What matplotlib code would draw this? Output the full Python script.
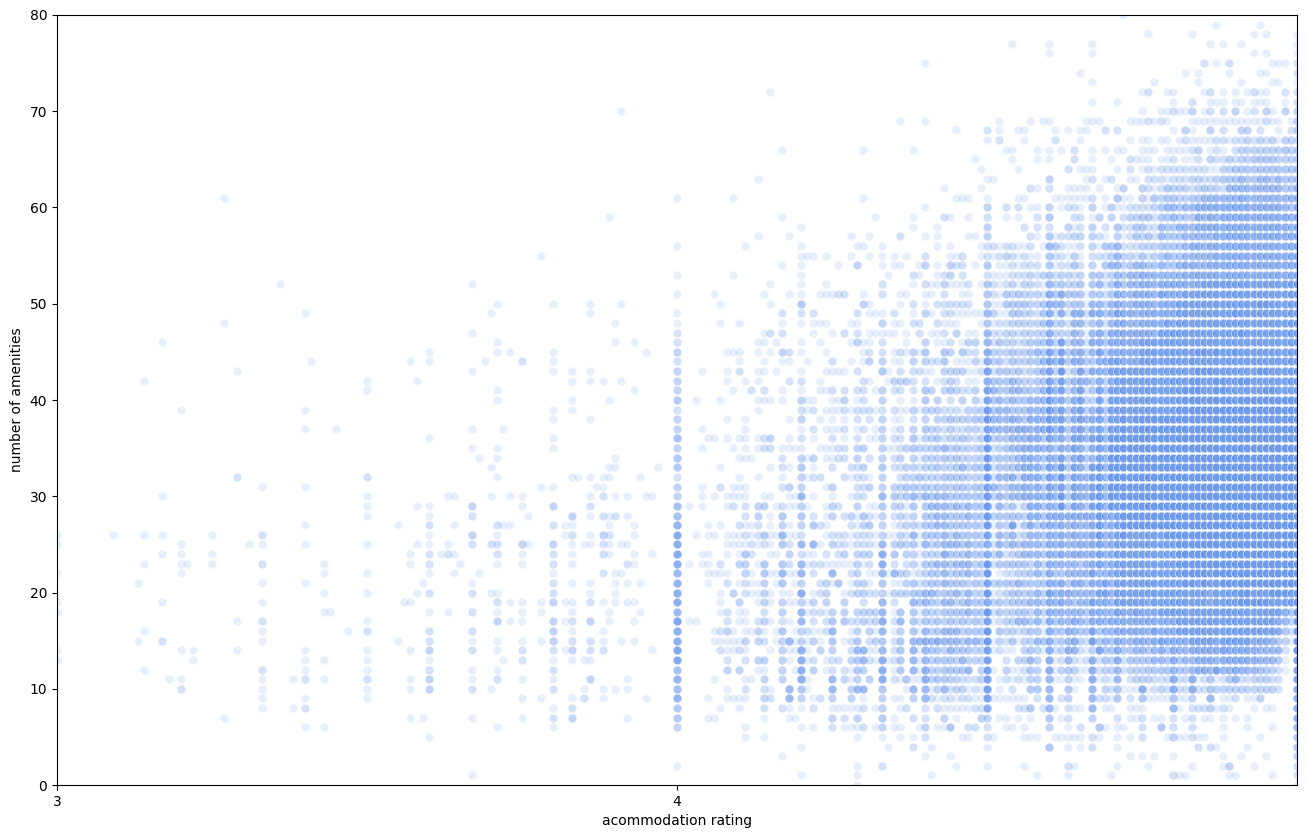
# using: utf-8
import matplotlib
matplotlib.use("Agg")
import matplotlib.pyplot as plt

# sparse part, one list of amenities per rating (repeats = overlapping listings)
low_ratings = [3.00, 3.09, 3.13, 3.14, 3.17, 3.18, 3.20, 3.21, 3.22, 3.25, 3.27, 3.29, 3.31, 3.33, 3.36,
               3.38, 3.40, 3.41, 3.43, 3.44, 3.45, 3.47, 3.50, 3.55, 3.56, 3.57, 3.58, 3.59, 3.60, 3.62,
               3.63, 3.64, 3.65, 3.67, 3.68, 3.69, 3.70, 3.71, 3.72, 3.73, 3.75, 3.76, 3.78, 3.80, 3.82,
               3.83, 3.84, 3.85, 3.86, 3.87, 3.88, 3.89, 3.90, 3.91, 3.92, 3.93, 3.94, 3.95, 3.96, 3.97]
low_amenities = [
    [13, 14, 18, 19, 22, 25, 26], [26], [15, 21], [12, 16, 23, 26, 42], [15, 15, 19, 24, 26, 30, 46], [11],
    [10, 10, 11, 14, 22, 23, 24, 25, 39], [23], [13, 14], [23, 24, 26], [7, 48, 61], [14, 17, 32, 32, 43], [25],
    [8, 9, 10, 11, 12, 12, 15, 16, 17, 17, 19, 21, 23, 23, 25, 26, 26, 31], [52], [8, 11],
    [6, 8, 8, 9, 11, 11, 12, 13, 14, 21, 25, 27, 31, 37, 39, 49], [44], [6, 11, 13, 18, 20, 22, 23], [18], [37], [16],
    [9, 10, 11, 11, 12, 13, 14, 16, 16, 17, 20, 22, 25, 28, 29, 30, 32, 32, 41, 42], [15, 27], [19],
    [7, 10, 11, 14, 19, 23, 24, 44], [20, 25, 29, 42], [7, 21],
    [5, 10, 10, 10, 11, 11, 11, 12, 12, 13, 14, 14, 14, 15, 15, 16, 16, 18, 20, 20, 22, 23, 23, 24, 24, 25, 26, 27, 27,
     28, 29, 36, 44, 45],
    [24], [18, 24, 24, 25, 30], [22, 24, 27, 30], [23],
    [1, 7, 10, 10, 11, 12, 14, 14, 15, 16, 16, 18, 18, 20, 20, 21, 25, 25, 26, 26, 26, 28, 28, 29, 29, 29, 35, 37, 43,
     47, 52],
    [22, 34], [44], [10, 20, 25, 25, 30, 33, 49],
    [6, 11, 11, 12, 14, 15, 17, 17, 17, 18, 19, 19, 20, 23, 24, 24, 25, 25, 26, 27, 27, 32, 34, 35, 40, 41, 45, 46, 50],
    [13, 27, 37], [17, 19, 27, 30, 45],
    [7, 9, 11, 13, 13, 14, 14, 15, 17, 18, 19, 23, 24, 25, 25, 25, 29, 30, 44, 44], [25, 28], [9, 15, 18, 19, 31, 55],
    [6, 7, 7, 8, 10, 10, 11, 12, 12, 13, 14, 14, 15, 15, 15, 16, 16, 16, 17, 17, 17, 19, 19, 19, 20, 20, 21, 21, 22, 23,
     23, 24, 24, 25, 25, 25, 27, 27, 29, 29, 29, 31, 35, 36, 38, 39, 43, 44, 45, 50],
    [14, 17, 19, 26, 27],
    [7, 7, 7, 8, 8, 9, 13, 14, 14, 14, 15, 15, 16, 17, 17, 18, 19, 21, 23, 24, 25, 26, 26, 27, 28, 28, 28, 32, 39, 40,
     42, 43],
    [32], [9, 9, 10, 13, 25],
    [11, 11, 11, 13, 14, 14, 15, 15, 17, 17, 17, 19, 19, 20, 21, 25, 26, 28, 29, 29, 30, 32, 38, 42, 43, 49, 50], [31],
    [9, 10, 14, 14, 15, 16, 19, 22, 22, 24, 24, 25, 25, 26, 26, 26, 28, 28, 30, 30, 31, 32, 42],
    [17, 18, 24, 25, 26, 26, 27, 28, 32, 33, 40, 59], [10, 19, 20, 21, 22, 28, 28, 30, 33, 34, 46, 48],
    [15, 22, 25, 42, 50, 70], [7, 10, 11, 19, 21, 23, 23, 25, 28, 30], [15, 17, 19, 23, 24, 26, 27, 41, 46],
    [18, 21, 32], [9, 30, 45], [14, 24, 30], [33],
]

# the rating 4.00 column
four_amenities = [2, 6, 7, 8, 9, 10, 11, 12, 13, 14, 15, 16, 17, 18, 19, 20, 21, 22, 23, 24, 25, 26, 27, 28, 29, 30,
                  31, 32, 33, 34, 35, 36, 37, 38, 39, 40, 41, 42, 43, 44, 45, 46, 47, 48, 49, 51, 53, 56, 61]
four_counts = [1, 3, 4, 4, 7, 5, 7, 5, 9, 10, 8, 8, 10, 6, 8, 8, 7, 6, 8, 9, 8, 9, 7, 5, 5, 3,
               3, 2, 4, 4, 3, 5, 3, 3, 2, 4, 3, 3, 3, 2, 3, 2, 2, 1, 1, 1, 1, 1, 1]

# dense part: ratings 4.01 .. 5.00, one row per amenity count from 80 down to 0,
# each block is ten ratings, digit = overlap level, "-" = empty block
overlap_levels = [0, 1, 2, 3, 4, 6, 8, 11, 15, 25]
grid_ratings = [4.01, 4.02, 4.03, 4.04, 4.05, 4.06, 4.07, 4.08, 4.09, 4.10,
                4.11, 4.12, 4.13, 4.14, 4.15, 4.16, 4.17, 4.18, 4.19, 4.20,
                4.21, 4.22, 4.23, 4.24, 4.25, 4.26, 4.27, 4.28, 4.29, 4.30,
                4.31, 4.32, 4.33, 4.34, 4.35, 4.36, 4.37, 4.38, 4.39, 4.40,
                4.41, 4.42, 4.43, 4.44, 4.45, 4.46, 4.47, 4.48, 4.49, 4.50,
                4.51, 4.52, 4.53, 4.54, 4.55, 4.56, 4.57, 4.58, 4.59, 4.60,
                4.61, 4.62, 4.63, 4.64, 4.65, 4.66, 4.67, 4.68, 4.69, 4.70,
                4.71, 4.72, 4.73, 4.74, 4.75, 4.76, 4.77, 4.78, 4.79, 4.80,
                4.81, 4.82, 4.83, 4.84, 4.85, 4.86, 4.87, 4.88, 4.89, 4.90,
                4.91, 4.92, 4.93, 4.94, 4.95, 4.96, 4.97, 4.98, 4.99, 5.00]
grid_amenities = list(range(80, -1, -1))
grid_rows = [
    "- - - - - - - 0100000000 - -",
    "- - - - - - - - 0000001000 0001000000",
    "- - - - - - - 0000010000 0010000000 0010100001",
    "- - - - - 0001000001 0000001000 - 0000010100 1000000001",
    "- - - - - 0000000001 0000001000 - - 0010100001",
    "- - - 0000000001 - - - - 0000201020 0000011102",
    "- - - - - - 0000100000 - 0101000010 0001100002",
    "- - - - - - 0000001000 0000001000 0001000000 1000011001",
    "- 0000100000 - - - - - 0000120011 0000120101 0121100202",
    "- - - - - - 0000001000 1000000001 0020011101 1011100102",
    "- - - - - - - 0000100112 1130120203 0120310303",
    "- - - 0000010001 - 0100001011 0000011100 0011121210 0011111111 1111211013",
    "- - - - 0000100002 0100110000 1010110020 2000000001 0310030200 3302001023",
    "- - - - 0000000001 0200010000 2000100000 0010110110 1211112212 2323231332",
    "- 0000001000 0000000001 0000000100 - 0011000101 0102001010 1100111011 1123012102 3333333433",
    "- - - - 0000000100 0001000101 0002001001 0021110112 0112032232 3344443333",
    "- - - - 0000000010 0000100000 0020111000 1020121222 2222211334 4444444444",
    "- 0010000000 - - 0000000001 1000000003 0000012012 0011022212 2233223444 5445545444",
    "- - - - 0010000010 0000002102 0011110100 1300321243 3323433255 5555555445",
    "0000000010 - 0000000001 - 0000111001 0000110000 1111112010 4110314344 3344555555 6555555555",
    "- - - 0000000001 0000000003 0020201103 0122103013 1122223455 4556666666 6666666546",
    "- 0000001000 - 0100000100 0021001002 0010100204 0002201303 0233442445 4446565666 6666666656",
    "- 0000000001 - 0000000100 0100000003 0000020202 0031203020 4224422544 5556666666 6666666656",
    "- 0010000100 0000000100 1000020001 0100001103 0000002104 1223303210 3124342544 4555556666 6666666666",
    "- 1000000001 0000000011 0010000000 0101000012 2122112015 4211203144 5222333444 4566566666 6666666666",
    "- 0000000001 1101000100 1010101002 0001120012 1232121104 2213102223 5332423454 4555556666 6666666666",
    "- 0000001001 0000010030 0010110013 0103220104 0112122204 1224203045 5345544544 5665566666 6666666666",
    "0000000010 0000000001 - 0001000210 0123020002 1112223234 2332304423 5455655555 5666666666 6666666666",
    "- 0000100001 0001000000 0020000102 1131112014 2123133215 3433404524 6455665666 6666777777 7777777777",
    "0000010000 0001000101 0011122001 0020011001 1020011004 2143433326 4644414424 6556665766 6777777777 7777777777",
    "0000001000 0000100004 0000000003 1000010201 0222222004 1144443346 5534415535 6556665666 7777777777 7778877777",
    "- 0000002002 0200000020 1110200103 1022111115 3114433246 2626626645 7665666666 7777777778 7777777777",
    "0000001001 0000001001 0111000110 0030110220 0211100014 1223333346 3425524525 6655666676 7777777777 7777777777",
    "- 0001202000 0100102020 1111101020 1120301105 2233233336 3335415636 6666665777 7777777777 8777777777",
    "- 0011010001 0010000131 1020001003 0112013305 2433234446 3735526646 6666777777 7777777777 7777777777",
    "0000000111 0010103201 0001000001 2020121314 0043042206 3334334547 4745635746 6666777777 7778878778 7777777777",
    "0000000001 0001001100 1000200101 3030110303 2240111316 3424334457 5746644667 7666777777 7787777777 7777777777",
    "0001000102 0011010001 0001111020 0041020221 1033331127 2443423457 3824736657 7777777777 7778887777 7778877777",
    "0000000100 1010000202 0010000002 1001333202 0123201106 4445433447 4745654636 7777777777 7788778877 8877777777",
    "0000000010 0202001001 0011202022 0130220204 3034322307 5445544458 5735724747 7777777777 7888778877 7777887777",
    "0010001000 0011101003 1100113012 0030010104 0302030317 4545445558 5646733727 7777777777 7888788887 8888888888",
    "- 0010000002 1201112122 2120211313 3322213338 4554445558 5746735747 7777777777 8888888888 8888888888",
    "0000000100 1000000103 0010101020 2030110203 0334333448 5556546658 6746756747 7878888888 8888888888 8888888888",
    "0001000000 1000000001 0201112012 0130120304 3323223327 5555665668 5746746747 7878888888 8888888888 8888888888",
    "0000110101 1012300102 0100201020 1130220413 3423343238 3445556647 5647757858 8888888888 8888888888 8888888888",
    "0001000010 1012201111 0011122033 0031123433 3453433348 2345566656 4657636758 8888888888 8888888888 8888888888",
    "0000000001 1100002003 1301122030 2030230313 3343433338 3444566546 5746745758 8888888888 8888888888 8888888888",
    "0000001000 0000102104 0100200223 0040223323 3433453448 2444566647 5847637858 8888888888 8888888888 8888888888",
    "0000000001 0010001003 1220002122 1030023343 3344443338 2556366647 5847657858 8888888888 8888888888 8888888888",
    "0001002011 1000002303 0001300022 3030334434 3443443447 5445565647 5747657858 8888888888 8888888888 8888888888",
    "0001010111 1001100115 0100100122 0050434535 4554444448 3545566657 5847657858 7888888888 8888888888 8888888888",
    "0101000120 2033012113 1001320030 1140331404 5554545448 1534136646 5847647858 7888888888 8888888888 8888888888",
    "- 2030104004 0201302314 2130232304 4554445448 3444436646 6666666866 7888888888 8888888888 8888888888",
    "0000101002 1120103103 0421000213 4030123324 4554444438 1437146456 5656556856 7888888888 8888888888 8888888888",
    "0010110111 2124115112 0001222122 2131132514 4453544437 1545235546 5656556856 7877777788 8888888888 8888888888",
    "0000000111 1212104205 0510322122 2150343415 3455545446 2545455546 5655656756 7777777777 8888888888 8888888888",
    "0001100101 4200110302 1102023033 3060403313 3364445446 3523455546 5656656756 7777777777 8888888888 8888888888",
    "0101102003 3014004205 1221111131 2060202314 4554555348 2444443536 5555456756 7777777777 8888888888 8888888888",
    "0000111100 3104115115 0200500230 1151533123 4453445438 0122334536 4455557556 7777777777 7888878888 8888888888",
    "0000100201 2113014013 0023140133 1040113423 4454443437 3444544446 5646646675 7777777777 7887877887 8888888888",
    "0000001030 2113101106 0123001233 2231333445 5444535338 1234434537 5665555775 7777777777 7777767777 8877788878",
    "0000001003 0013103113 1303003002 0050200545 4355345446 3434445546 5654557665 7777767777 7777767777 8888877778",
    "0000001201 1002003005 1221303033 3350140414 3344445448 2433443536 5555546655 7667666777 7777777777 7777777648",
    "0110000201 1023102105 0202404223 2360250424 3434343437 1233554526 4556546656 6666666666 7777777777 7777776538",
    "0000012310 1131014013 2112500130 3150130415 3455534448 0433234416 4465447455 6666657666 7777777777 7777776428",
    "0000011111 3032013513 1310401240 2340240556 5655545548 1324133546 3456327454 6556656766 6677776777 7766654318",
    "0000002112 1000103116 1030300255 1150240515 4435444337 1211034316 2365213744 6445545646 5566666766 6665555208",
    "0000000200 2033003106 1201220345 2161240515 3444353337 0020335306 1252126243 6244445546 4556665666 6665554107",
    "0000000303 0011003016 0301202143 0060140516 3344445037 1031124306 1343116233 5233344445 4456657556 5554432107",
    "0000010000 1103003006 1000503130 3060214116 3443322237 0121213305 1131106121 5023332226 2261241245 2233322007",
    "0000000100 2002100504 1000500355 0040001505 1352331217 0102004405 0041005032 4111612326 2262243333 3333332006",
    "0000100111 1003200503 0120300301 0030110305 2122122117 1111110205 0230005221 4020411114 1130050112 0113000006",
    "0000001001 0002002101 0200111112 0130012002 0211111226 0000224025 1021105011 0011100005 1022231210 0010110006",
    "0000110000 0001000110 0000302030 0040100202 0030100033 0110101004 0120003000 2011201102 0120110101 0100000006",
    "- 1000000001 0100201112 0130110013 0114002202 0011010003 0010200410 1100200402 0020000100 0100010005",
    "- 1001000000 0000000010 0010010102 0000011002 1000011100 1111102100 1010200013 1121100100 0001000004",
    "- 0000000001 - 0001000200 1000000001 0000000004 0010102000 1000000000 0002021000 0100000004",
    "- 0000001000 - 0000000001 0001000000 - - 0010101001 0000000100 1000100003",
    "- - 0000000010 0020000000 0000100001 0000010000 0021000000 1000010000 0010000130 0010000002",
    "- 0000000001 0000000010 - 1000000000 0000000100 0010000001 0000000002 1100000011 0000010002",
    "- - 0000000010 - - - - - - 0000000001",
]

x = []
y = []
for rating, values in zip(low_ratings, low_amenities):
    for v in values:
        x.append(rating)
        y.append(v)

for v, c in zip(four_amenities, four_counts):
    x += [4.0] * c
    y += [v] * c

for amen, row in zip(grid_amenities, grid_rows):
    for j, block in enumerate(row.split()):
        if block == "-":
            continue
        for i, ch in enumerate(block[:10]):
            c = overlap_levels[int(ch)]
            x += [grid_ratings[j * 10 + i]] * c
            y += [amen] * c

fig = plt.figure(figsize=(13.06, 8.38), dpi=100)
ax = fig.add_axes([57 / 1306, (838 - 785) / 838, 1240 / 1306, 770 / 838])
ax.scatter(x, y, s=36, color="cornflowerblue", alpha=0.15, edgecolors="w", linewidths=0.48)
ax.set_xlim(3, 5)
ax.set_ylim(0, 80)
ax.set_xticks([3, 4])
ax.set_xlabel("acommodation rating")
ax.set_ylabel("number of amenities")
fig.savefig("out.png", dpi=100)
